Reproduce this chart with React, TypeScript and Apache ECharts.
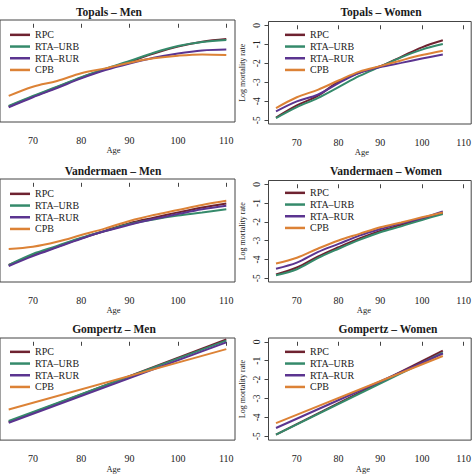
import React, { useEffect, useRef } from "react";
import * as echarts from "echarts";

const SERIES_NAMES = ["RPC", "RTA–URB", "RTA–RUR", "CPB"];
const SERIES_COLORS = ["#6e2230", "#358a6b", "#5b3490", "#dc8236"];
const X_TICKS = [70, 80, 90, 100, 110];
const Y_TICKS = [-5, -4, -3, -2, -1, 0];

const AGES_MEN = [65, 70, 75, 80, 85, 90, 95, 100, 105, 110];
const AGES_WOMEN = [65, 70, 75, 80, 85, 90, 95, 100, 105];
const AGES_GOMPERTZ_MEN = [65, 110];
const AGES_GOMPERTZ_WOMEN = [65, 105];

// Topals – Men
const topalsMenRPC = [-4.38, -3.86, -3.36, -2.85, -2.41, -2.01, -1.57, -1.21, -0.95, -0.81];
const topalsMenURB = [-4.35, -3.82, -3.33, -2.83, -2.38, -1.97, -1.53, -1.18, -0.97, -0.86];
const topalsMenRUR = [-4.42, -3.89, -3.4, -2.89, -2.45, -2.1, -1.8, -1.57, -1.41, -1.36];
const topalsMenCPB = [-3.82, -3.33, -3.03, -2.62, -2.36, -2.06, -1.83, -1.69, -1.62, -1.65];

// Topals – Women
const topalsWomenRPC = [-4.86, -4.22, -3.72, -2.97, -2.5, -2.16, -1.66, -1.16, -0.79];
const topalsWomenURB = [-4.89, -4.31, -3.84, -3.26, -2.67, -2.18, -1.69, -1.28, -0.99];
const topalsWomenRUR = [-4.54, -4.01, -3.66, -3.05, -2.5, -2.2, -1.98, -1.75, -1.54];
const topalsWomenCPB = [-4.36, -3.79, -3.4, -2.91, -2.44, -2.15, -1.85, -1.57, -1.34];

// Vandermaen – Men
const vandMenRPC = [-4.31, -3.79, -3.35, -2.91, -2.51, -2.12, -1.83, -1.55, -1.29, -1.08];
const vandMenURB = [-4.31, -3.73, -3.31, -2.88, -2.52, -2.16, -1.92, -1.72, -1.56, -1.39];
const vandMenRUR = [-4.36, -3.84, -3.38, -2.93, -2.53, -2.2, -1.9, -1.64, -1.39, -1.2];
const vandMenCPB = [-3.47, -3.35, -3.09, -2.74, -2.39, -2.0, -1.69, -1.43, -1.16, -0.94];

// Vandermaen – Women
const vandWomenRPC = [-4.8, -4.43, -3.85, -3.35, -2.88, -2.48, -2.16, -1.84, -1.52];
const vandWomenURB = [-4.84, -4.52, -3.93, -3.43, -2.96, -2.55, -2.24, -1.9, -1.59];
const vandWomenRUR = [-4.49, -4.17, -3.61, -3.17, -2.73, -2.38, -2.08, -1.8, -1.45];
const vandWomenCPB = [-4.22, -3.91, -3.43, -2.99, -2.64, -2.29, -2.03, -1.76, -1.5];

// Gompertz – Men
const gompMenRPC = [-4.24, 0.13];
const gompMenURB = [-4.19, 0.06];
const gompMenRUR = [-4.28, -0.03];
const gompMenCPB = [-3.58, -0.39];

// Gompertz – Women
const gompWomenRPC = [-4.91, -0.47];
const gompWomenURB = [-4.91, -0.58];
const gompWomenRUR = [-4.56, -0.62];
const gompWomenCPB = [-4.3, -0.75];

const PANEL_TITLES = [
  "Topals – Men",
  "Topals – Women",
  "Vandermaen – Men",
  "Vandermaen – Women",
  "Gompertz – Men",
  "Gompertz – Women",
];

const PANEL_DATA = [
  { ages: AGES_MEN, values: [topalsMenRPC, topalsMenURB, topalsMenRUR, topalsMenCPB], smooth: true },
  { ages: AGES_WOMEN, values: [topalsWomenRPC, topalsWomenURB, topalsWomenRUR, topalsWomenCPB], smooth: true },
  { ages: AGES_MEN, values: [vandMenRPC, vandMenURB, vandMenRUR, vandMenCPB], smooth: true },
  { ages: AGES_WOMEN, values: [vandWomenRPC, vandWomenURB, vandWomenRUR, vandWomenCPB], smooth: true },
  { ages: AGES_GOMPERTZ_MEN, values: [gompMenRPC, gompMenURB, gompMenRUR, gompMenCPB], smooth: false },
  { ages: AGES_GOMPERTZ_WOMEN, values: [gompWomenRPC, gompWomenURB, gompWomenRUR, gompWomenCPB], smooth: false },
];

// layout (pixels)
const LAYOUT = [
  { left: -7, top: 20, width: 242, height: 102, tx: 109, ty: 12, lx: 10, ly: 29, ageGap: 22, agePad: 8, yAxis: false },
  { left: 268.5, top: 21.5, width: 239.5, height: 102.5, tx: 381, ty: 12, lx: 285, ly: 29, ageGap: 20.5, agePad: 16, yAxis: true },
  { left: -7, top: 179, width: 242, height: 103, tx: 113, ty: 171, lx: 10, ly: 188, ageGap: 20, agePad: 8, yAxis: false },
  { left: 268.5, top: 180.5, width: 239.5, height: 101.5, tx: 386, ty: 171, lx: 285, ly: 187, ageGap: 18, agePad: 12, yAxis: true },
  { left: -7, top: 338, width: 242, height: 103, tx: 114, ty: 329, lx: 10, ly: 346, ageGap: 19, agePad: 8, yAxis: false },
  { left: 268.5, top: 338, width: 239.5, height: 102.5, tx: 388, ty: 329, lx: 285, ly: 346, ageGap: 19, agePad: 14, yAxis: true },
];

const FONT = "'Liberation Serif', 'DejaVu Serif', serif";
const AXIS_COLOR = "#444";

function buildOption() {
  const grid: any[] = [];
  const xAxis: any[] = [];
  const yAxis: any[] = [];
  const series: any[] = [];
  const legend: any[] = [];
  const graphic: any[] = [];

  LAYOUT.forEach((L, i) => {
    grid.push({
      left: L.left,
      top: L.top,
      width: L.width,
      height: L.height,
      show: true,
      borderColor: AXIS_COLOR,
      borderWidth: 1,
      backgroundColor: "transparent",
      containLabel: false,
    });
    xAxis.push({
      type: "value",
      gridIndex: i,
      min: 63.2,
      max: 111.8,
      name: "Age",
      nameLocation: "middle",
      nameGap: L.ageGap,
      nameTextStyle: { fontFamily: FONT, fontSize: 8.5, color: "#222", padding: [0, L.agePad, 0, 0] },
      axisLine: { show: false },
      axisTick: { show: true, length: 4, lineStyle: { color: AXIS_COLOR }, customValues: X_TICKS },
      axisLabel: { show: true, margin: 13, fontFamily: FONT, fontSize: 10, color: "#222", customValues: X_TICKS },
      splitLine: { show: false },
    });
    yAxis.push({
      type: "value",
      gridIndex: i,
      min: -5.2,
      max: 0.2,
      show: L.yAxis,
      name: L.yAxis ? "Log mortality rate" : "",
      nameLocation: "middle",
      nameRotate: 90,
      nameGap: 22,
      nameTextStyle: { fontFamily: FONT, fontSize: 8, color: "#222" },
      axisLine: { show: false },
      axisTick: { show: L.yAxis, length: 4, lineStyle: { color: AXIS_COLOR }, customValues: Y_TICKS },
      axisLabel: { show: L.yAxis, rotate: 90, margin: 7, fontFamily: FONT, fontSize: 9.5, color: "#222", customValues: Y_TICKS },
      splitLine: { show: false },
    });
    const P = PANEL_DATA[i];
    SERIES_NAMES.forEach((name, k) => {
      series.push({
        type: "line",
        name,
        xAxisIndex: i,
        yAxisIndex: i,
        data: P.ages.map((a, j) => [a, P.values[k][j]]),
        showSymbol: false,
        symbol: "none",
        smooth: P.smooth ? 0.35 : false,
        color: SERIES_COLORS[k],
        lineStyle: { width: 2, color: SERIES_COLORS[k] },
        silent: true,
      });
    });
    legend.push({
      show: true,
      orient: "vertical",
      left: L.lx,
      top: L.ly,
      padding: 0,
      itemGap: 0,
      itemWidth: 20,
      itemHeight: 2.5,
      icon: "rect",
      selectedMode: false,
      data: SERIES_NAMES,
      textStyle: { fontFamily: FONT, fontSize: 10, color: "#222", lineHeight: 11.7 },
    });
    graphic.push({
      type: "text",
      x: L.tx,
      y: L.ty,
      style: {
        text: PANEL_TITLES[i],
        align: "center",
        verticalAlign: "middle",
        fontFamily: FONT,
        fontSize: 11.5,
        fontWeight: "bold",
        fill: "#1a1a1a",
      },
    });
  });

  return {
    animation: false,
    backgroundColor: "#ffffff",
    textStyle: { fontFamily: FONT },
    grid,
    xAxis,
    yAxis,
    series,
    legend,
    graphic,
  };
}

export default function App() {
  const ref = useRef<HTMLDivElement>(null);
  useEffect(() => {
    if (!ref.current) return;
    const chart = echarts.init(ref.current, null, { renderer: "svg" });
    chart.setOption(buildOption() as any);
    return () => chart.dispose();
  }, []);
  return (
    <div
      ref={ref}
      style={{ position: "absolute", left: 0, top: 0, width: 474, height: 474, background: "#fff" }}
    />
  );
}
